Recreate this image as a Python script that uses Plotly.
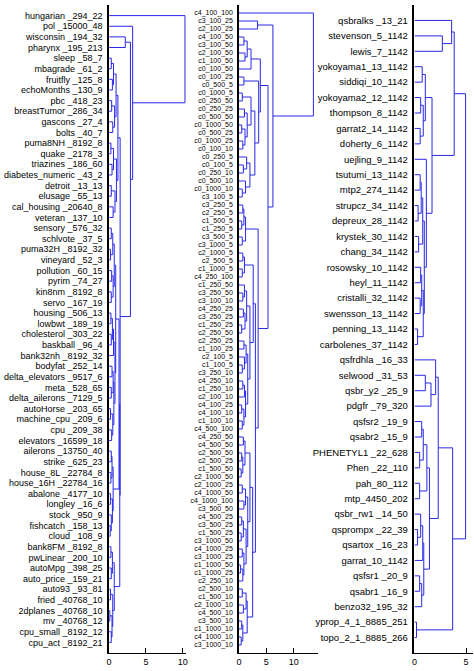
import plotly.graph_objects as go

# ---------------- data ----------------
left_labels = [
    "hungarian _294_22", "pol _15000_48", "wisconsin _194_32", "pharynx _195_213",
    "sleep _58_7", "mbagrade _61_2", "fruitfly _125_8", "echoMonths _130_9",
    "pbc _418_23", "breastTumor _286_34", "gascons _27_4", "bolts _40_7",
    "puma8NH _8192_8", "quake _2178_3", "triazines _186_60", "diabetes_numeric _43_2",
    "detroit _13_13", "elusage _55_13", "cal_housing _20640_8", "veteran _137_10",
    "sensory _576_32", "schlvote _37_5", "puma32H _8192_32", "vineyard _52_3",
    "pollution _60_15", "pyrim _74_27", "kin8nm _8192_8", "servo _167_19",
    "housing _506_13", "lowbwt _189_19", "cholesterol _303_22", "baskball _96_4",
    "bank32nh _8192_32", "bodyfat _252_14", "delta_elevators _9517_6", "meta _528_65",
    "delta_ailerons _7129_5", "autoHorse _203_65", "machine_cpu _209_6", "cpu _209_38",
    "elevators _16599_18", "ailerons _13750_40", "strike _625_23", "house_8L _22784_8",
    "house_16H _22784_16", "abalone _4177_10", "longley _16_6", "stock _950_9",
    "fishcatch _158_13", "cloud _108_9", "bank8FM _8192_8", "pwLinear _200_10",
    "autoMpg _398_25", "auto_price _159_21", "auto93 _93_81", "fried _40768_10",
    "2dplanes _40768_10", "mv _40768_12", "cpu_small _8192_12", "cpu_act _8192_21",
]

mid_labels = [
    "c4_100_100", "c3_100_25", "c2_100_25", "c4_100_50", "c3_100_50", "c2_100_50",
    "c1_100_50", "c0_100_50", "c0_100_25", "c0_500_5", "c0_1000_5", "c0_250_50",
    "c0_250_25", "c0_500_50", "c0_1000_50", "c0_500_25", "c0_1000_25", "c0_100_10",
    "c0_250_5", "c0_100_5", "c0_250_10", "c0_500_10", "c0_1000_10", "c3_100_5",
    "c3_250_5", "c2_250_5", "c1_500_5", "c1_250_5", "c3_500_5", "c3_1000_5",
    "c2_1000_5", "c2_500_5", "c1_1000_5", "c4_250_100", "c1_250_50", "c3_250_50",
    "c3_100_10", "c4_250_25", "c3_250_25", "c1_250_25", "c2_250_50", "c2_250_25",
    "c1_100_25", "c2_100_5", "c1_100_5", "c3_250_10", "c4_250_10", "c1_250_10",
    "c2_100_10", "c4_100_25", "c4_100_10", "c1_100_10", "c4_500_100", "c4_250_50",
    "c4_500_50", "c2_500_50", "c2_500_25", "c1_500_50", "c2_1000_50", "c2_1000_25",
    "c4_1000_50", "c4_1000_100", "c3_500_50", "c4_500_25", "c3_500_25", "c1_500_25",
    "c3_1000_50", "c4_1000_25", "c3_1000_25", "c1_1000_50", "c1_1000_25", "c2_250_10",
    "c2_500_10", "c1_500_10", "c2_1000_10", "c4_500_10", "c3_500_10", "c1_1000_10",
    "c4_1000_10", "c3_1000_10",
]

right_labels = [
    "qsbralks _13_21", "stevenson_5_1142", "lewis_7_1142", "yokoyama1_13_1142",
    "siddiqi_10_1142", "yokoyama2_12_1142", "thompson_8_1142", "garrat2_14_1142",
    "doherty_6_1142", "uejling_9_1142", "tsutumi_13_1142", "mtp2_274_1142",
    "strupcz_34_1142", "depreux_28_1142", "krystek_30_1142", "chang_34_1142",
    "rosowsky_10_1142", "heyl_11_1142", "cristalli_32_1142", "swensson_13_1142",
    "penning_13_1142", "carbolenes_37_1142", "qsfrdhla _16_33", "selwood _31_53",
    "qsbr_y2 _25_9", "pdgfr _79_320", "qsfsr2 _19_9", "qsabr2 _15_9",
    "PHENETYL1 _22_628", "Phen _22_110", "pah_80_112", "mtp_4450_202",
    "qsbr_rw1 _14_50", "qsprompx _22_39", "qsartox _16_23", "garrat_10_1142",
    "qsfsr1 _20_9", "qsabr1 _16_9", "benzo32_195_32", "yprop_4_1_8885_251",
    "topo_2_1_8885_266",
]

# merge trees: (left, right, merge height); ints are leaf indices
left_top = ((((4, 5, 0.3), (6, 7, 0.45), 0.6), ((8, 9, 0.35), (10, 11, 0.5), 0.75), 0.95),
            (((12, 13, 0.25), (14, 15, 0.4), 0.6), ((16, 17, 0.3), (18, 19, 0.55), 0.8), 1.0), 1.2)
left_r1 = ((((20, 21, 0.3), (22, 23, 0.2), 0.5), ((24, 25, 0.35), (26, 27, 0.3), 0.55), 0.7),
           ((((28, 29, 0.25), (30, 31, 0.3), 0.45), 32, 0.6),
            (((33, 34, 0.4), (35, 36, 0.3), 0.55), ((37, 38, 0.2), (39, 40, 0.35), 0.5), 0.65), 0.8), 0.9)
left_r2 = (((41, 42, 0.3), (43, 44, 0.25), 0.4), ((45, 46, 0.2), (47, (48, 49, 0.15), 0.3), 0.45), 0.55)
left_r3 = (((50, 51, 0.25), (52, 53, 0.3), 0.45), ((54, 55, 0.2), ((56, 57, 0.1), (58, 59, 0.3), 0.4), 0.5), 0.7)
left_rest = ((left_r1, left_r2, 1.35), left_r3, 1.45)
left_tree = (0, (1, ((2, 3, 2.2), (left_top, left_rest, 1.5), 2.9), 3.2), 10.3)

mid_g1 = (((3, 4, 0.9), (5, 6, 1.1), 1.5), 7, 2.2)
mid_g2a = (10, 11, 0.6)
mid_g2b = ((12, 13, 1.0), ((14, 15, 0.5), (16, 17, 0.7), 1.1), 1.5)
mid_g2c = ((18, (19, 20, 0.8), 1.4), (21, (22, 23, 0.6), 1.2), 2.0)
mid_g2 = ((8, 9, 0.9), ((mid_g2a, mid_g2b, 2.2), mid_g2c, 2.9), 3.6)
mid_h1 = (((24, 25, 0.7), (26, 27, 0.5), 0.9), (28, 29, 0.6), 1.2)
mid_k1 = (((30, 31, 0.7), (32, 33, 0.6), 1.0),
          (((34, (35, 36, 0.7), 1.0), ((37, 38, 0.8), (39, 40, 0.5), 1.1), 1.4),
           (((41, 42, 0.9), (43, (44, 45, 0.6), 1.0), 1.3),
            (((46, 47, 0.7), 48, 1.0), ((49, 50, 0.5), (51, 52, 0.6), 0.9), 1.2), 1.6), 2.0), 2.6)
mid_m1 = (((53, 54, 0.8), ((55, 56, 0.5), (57, 58, 0.4), 0.7), 1.1),
          (((59, 60, 0.6), (61, 62, 0.9), 1.2),
           (((63, 64, 0.5), (65, 66, 0.4), 0.8), ((67, 68, 0.6), ((69, 70, 0.3), 71, 0.7), 0.9), 1.3), 1.6), 2.0)
mid_m2 = (((72, 73, 0.6), (74, 75, 0.8), 1.3), ((76, 77, 0.5), (78, 79, 0.4), 0.7), 1.5)
mid_tree = (0, ((1, 2, 3.4), ((mid_g1, mid_g2, 3.9),
                              (mid_h1, (mid_k1, (mid_m1, mid_m2, 2.5), 3.0), 3.5), 5.3), 6.2), 13.6)

right_c1 = ((3, 4, 0.75), ((5, 6, 0.6), (7, 8, 0.55), 0.85), 1.05)
right_c2 = (9, ((((10, 11, 0.55), (12, 13, 0.35), 0.65), (14, 15, 0.4), 0.8),
                (((16, 17, 0.6), (18, 19, 0.55), 0.7), (20, 21, 0.3), 0.85), 0.95), 1.15)
right_p1 = (22, ((23, 24, 1.05), 25, 1.6), 2.05)
right_p2 = ((((26, 27, 0.7), (28, 29, 0.5), 0.85), (30, 31, 0.5), 1.2),
            (((32, (33, 34, 0.3), 0.6), 35, 0.8), ((36, 37, 0.5), 38, 0.7), 0.9), 1.45)
right_tree = (((0, (1, 2, 2.7), 3.6), (right_c1, right_c2, 1.7), 3.85),
              ((right_p1, right_p2, 2.3), (39, 40, 0.2), 3.7), 4.95)


# ---------------- build ----------------
def build(tree, n):
    xs, ys, order = [], [], []

    def walk(node):
        if isinstance(node, int):
            order.append(node)
            return node + 1, 0.0
        a, b, h = node
        ya, ha = walk(a)
        yb, hb = walk(b)
        xs.extend([ha, h, h, hb, None])
        ys.extend([ya, ya, yb, yb, None])
        return (ya + yb) / 2.0, h

    walk(tree)
    assert order == list(range(n)), order
    return xs, ys


LINE = "rgb(40,40,232)"
panels = [
    (left_labels, left_tree, [0.2257, 0.3903], [0, 10.5], [0, 5, 10], 9),
    (mid_labels, mid_tree, [0.5021, 0.6709], [0, 14.5], [0, 5, 10], 7),
    (right_labels, right_tree, [0.8755, 1.0], [0, 5.67], [0, 5], 9.5),
]

fig = go.Figure()
layout = {}
Y0, Y1 = 1 - 653 / 671, 1 - 5 / 671
for i, (labels, tree, xdom, xr, xt, fs) in enumerate(panels):
    n = len(labels)
    xs, ys = build(tree, n)
    sfx = "" if i == 0 else str(i + 1)
    fig.add_trace(go.Scatter(x=xs, y=ys, mode="lines",
                             line=dict(color=LINE, width=1),
                             xaxis="x" + sfx, yaxis="y" + sfx,
                             hoverinfo="skip", showlegend=False))
    layout["xaxis" + sfx] = dict(domain=xdom, range=xr, anchor="y" + sfx,
                                 tickvals=xt, ticktext=[str(v) for v in xt],
                                 ticks="inside", ticklen=5, tickcolor="black",
                                 showline=True, linecolor="black", linewidth=1,
                                 showgrid=False, zeroline=False,
                                 tickfont=dict(size=9, color="black",
                                               family="Liberation Sans"))
    layout["yaxis" + sfx] = dict(domain=[Y0, Y1], range=[n + 1, 0], anchor="x" + sfx,
                                 tickvals=list(range(1, n + 1)), ticktext=labels,
                                 ticks="", ticklabelstandoff=3,
                                 showline=True, linecolor="black",
                                 linewidth=1.5, showgrid=False, zeroline=False,
                                 tickfont=dict(size=fs, color="black",
                                               family="Liberation Sans"))

fig.update_layout(width=474, height=671, margin=dict(l=0, r=0, t=0, b=0),
                  paper_bgcolor="white", plot_bgcolor="white", **layout)
fig.write_html("out.html")
